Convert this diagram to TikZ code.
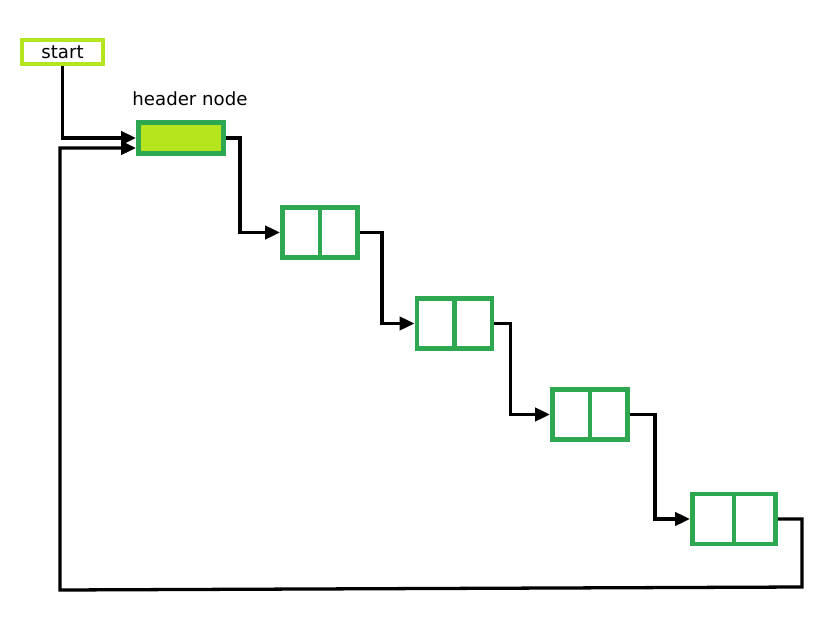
\documentclass[tikz,border=0pt]{standalone}
\usepackage{fontspec}
\setmainfont{DejaVu Sans}
\usetikzlibrary{arrows.meta}
\definecolor{white}{RGB}{255,255,255}
\definecolor{black}{RGB}{0,0,0}
\definecolor{paint_green}{RGB}{46,168,80}
\definecolor{lime_green}{RGB}{181,230,29}

\begin{document}
\begin{tikzpicture}[x=0.03cm,y=-0.03cm]
	\useasboundingbox[fill=white] (0,0) rectangle (832,640);
	\node[rectangle,draw=lime_green,line width=3.4pt,minimum width=2.43cm,minimum height=0.72cm,inner sep=0pt,font=\fontsize{15.5}{16}\selectfont] (start) at (62.5,52) {start};
	\node[font=\fontsize{15.5}{16}\selectfont] (label) at (190,99) {header node};
	\node[rectangle,draw=paint_green,fill=lime_green,line width=4.2pt,minimum width=2.55cm,minimum height=0.93cm] (h) at (181,138) {};
	\node[rectangle,draw=paint_green,line width=4.2pt,minimum width=2.25cm,minimum height=1.5cm] (1) at (320,232.5) {};
	\node[rectangle,draw=paint_green,line width=4.2pt,minimum width=2.25cm,minimum height=1.5cm] (2) at (454.5,323.5) {};
	\node[rectangle,draw=paint_green,line width=4.2pt,minimum width=2.25cm,minimum height=1.5cm] (3) at (590,414.5) {};
	\node[rectangle,draw=paint_green,line width=4.2pt,minimum width=2.49cm,minimum height=1.5cm] (4) at (734,519) {};
	\coordinate (br) at (802,587);
	\coordinate (bl) at (60,590);
	
	\foreach \x in {1,2,3,4}
		\draw[paint_green,line width=3.8pt] (\x.north) -- (\x.south);
	\foreach \x/\y/\d in {h/1/14,1/2/22,2/3/16,3/4/25}
		\draw[black,-{Triangle[length=0.45cm,width=0.4cm]},line width=2.8pt] (\x.east) -- ++(\d,0) |- (\y.west);
	\draw[black,-{Triangle[length=0.45cm,width=0.4cm]},line width=2.8pt] (start.south) |- (h.west);
	\draw[black,-{Triangle[length=0.45cm,width=0.4cm]},line width=2.8pt] (4.east) -| (br) -- (bl) |- ([yshift=-0.3cm]h.west);
\end{tikzpicture}
\end{document}
